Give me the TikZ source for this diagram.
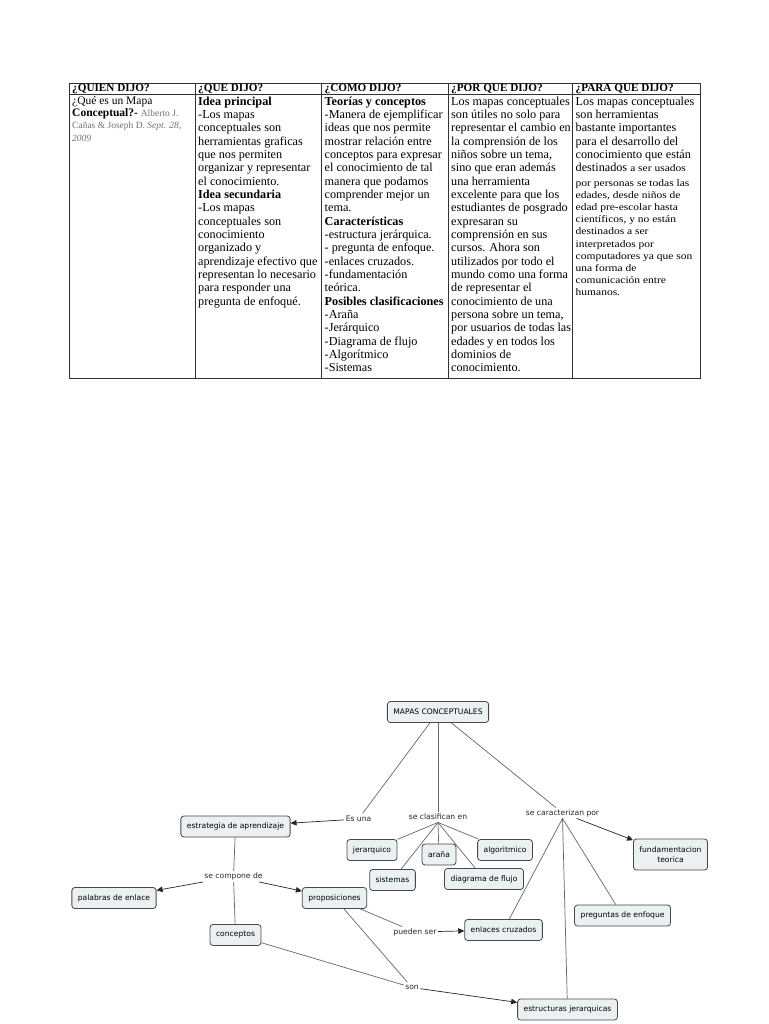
\documentclass[tikz,border=0pt]{standalone}
\usepackage{fontspec}
\usepackage{xcolor}
\setmainfont{Liberation Serif}
\newfontfamily\widefont[FakeStretch=1.15]{Liberation Serif}
\newfontfamily\cmapfont{DejaVu Sans}
\usetikzlibrary{positioning, arrows.meta, calc}

\definecolor{cmapfill}{HTML}{EBF0F3}
\definecolor{cmapline}{HTML}{484848}

\newcommand{\refnote}[1]{{\color{black!55}\fontsize{9.5}{12.4}\selectfont #1}}
\newcommand{\smalltxt}[1]{{\widefont\fontsize{10}{12.2}\selectfont #1}}

\begin{document}
\begin{tikzpicture}[
    x=1pt, y=-1pt,
    tabrule/.style={draw=black!80, line width=0.9pt},
    hdr/.style={anchor=base west, inner sep=0pt, font=\fontsize{11.2}{12}\selectfont\bfseries},
    cell/.style={anchor=north west, inner sep=0pt, align=left, font=\fontsize{12.2}{13.33}\selectfont},
    concept/.style={rectangle, draw=cmapline, fill=cmapfill, rounded corners=3pt, line width=0.8pt, inner xsep=6pt, inner ysep=3pt, minimum height=21pt, align=center, font=\cmapfont\fontsize{7.6}{10}\selectfont},
    linkword/.style={inner sep=1.5pt, text height=6pt, text depth=1.5pt, font=\cmapfont\fontsize{7.6}{9}\selectfont, text=black!85},
    conn/.style={draw=black!60, line width=0.7pt},
    arrow/.style={draw=black!85, line width=0.7pt, -{Triangle[length=6pt, width=5.5pt]}}
]
\useasboundingbox (0,0) rectangle (768,1024);
\fill[white] (0,0) rectangle (768,1024);

% Table
\draw[tabrule] (69,83) rectangle (700,378);
\draw[tabrule] (69,94) -- (700,94);
\foreach \x in {195,321.5,448,572.5}
    \draw[tabrule] (\x,83) -- (\x,378);

\node[hdr] (quienh) at (72,92) {¿QUIEN DIJO?};
\node[hdr] (queh) at (198,92) {¿QUE DIJO?};
\node[hdr] (comoh) at (324.5,92) {¿COMO DIJO?};
\node[hdr] (porqueh) at (451,92) {¿POR QUE DIJO?};
\node[hdr] (paraqueh) at (575.5,92) {¿PARA QUE DIJO?};

\node[cell, font=\fontsize{11.5}{12.4}\selectfont] (quien) at (72,96) {¿Qué es un Mapa\\
\textbf{Conceptual?-} \refnote{Alberto J.}\\
\refnote{Cañas \& Joseph D. \textit{Sept. 28,}}\\
\refnote{\textit{2009}}};

\node[cell] (que) at (198,96.5) {\textbf{Idea principal}\\
-Los mapas\\
conceptuales son\\
herramientas graficas\\
que nos permiten\\
organizar y representar\\
el conocimiento.\\
\textbf{Idea secundaria}\\
-Los mapas\\
conceptuales son\\
conocimiento\\
organizado y\\
aprendizaje efectivo que\\
representan lo necesario\\
para responder una\\
pregunta de enfoqué.};

\node[cell] (como) at (324.5,96.5) {\textbf{Teorías y conceptos}\\
-Manera de ejemplificar\\
ideas que nos permite\\
mostrar relación entre\\
conceptos para expresar\\
el conocimiento de tal\\
manera que podamos\\
comprender mejor un\\
tema.\\
\textbf{Características}\\
-estructura jerárquica.\\
- pregunta de enfoque.\\
-enlaces cruzados.\\
-fundamentación\\
teórica.\\
\textbf{Posibles clasificaciones}\\
-Araña\\
-Jerárquico\\
-Diagrama de flujo\\
-Algorítmico\\
-Sistemas};

\node[cell] (porque) at (451,96.5) {Los mapas conceptuales\\
son útiles no solo para\\
representar el cambio en\\
la comprensión de los\\
niños sobre un tema,\\
sino que eran además\\
una herramienta\\
excelente para que los\\
estudiantes de posgrado\\
expresaran su\\
comprensión en sus\\
cursos. Ahora son\\
utilizados por todo el\\
mundo como una forma\\
de representar el\\
conocimiento de una\\
persona sobre un tema,\\
por usuarios de todas las\\
edades y en todos los\\
dominios de\\
conocimiento.};

\node[cell] (paraque) at (575.5,96.5) {Los mapas conceptuales\\
son herramientas\\
bastante importantes\\
para el desarrollo del\\
conocimiento que están\\
destinados \smalltxt{a ser usados}};
\node[cell, font=\widefont\fontsize{10}{12.2}\selectfont] (paraque2) at (575.5,179) {por personas se todas las\\
edades, desde niños de\\
edad pre-escolar hasta\\
científicos, y no están\\
destinados a ser\\
interpretados por\\
computadores ya que son\\
una forma de\\
comunicación entre\\
humanos.};

% Concept map
\node[concept] (mapas) at (438,712) {MAPAS CONCEPTUALES};
\node[concept] (estrategia) at (235.5,826.5) {estrategia de aprendizaje};
\node[concept] (palabras) at (114,898) {palabras de enlace};
\node[concept] (proposiciones) at (334.5,898) {proposiciones};
\node[concept] (conceptos) at (235.5,935) {conceptos};
\node[concept] (jerarquico) at (372,850) {jerarquico};
\node[concept] (arana) at (439,854.5) {araña};
\node[concept] (algoritmico) at (505,850) {algoritmico};
\node[concept] (sistemas) at (392.5,880) {sistemas};
\node[concept] (diagrama) at (484,879) {diagrama de flujo};
\node[concept] (enlaces) at (503.5,930) {enlaces cruzados};
\node[concept] (preguntas) at (622.5,915.5) {preguntas de enfoque};
\node[concept] (estructuras) at (567.5,1009.5) {estructuras jerarquicas};
\node[concept, minimum height=31pt] (fundamentacion) at (670.5,854.5) {fundamentacion\\teorica};

% Linking phrases
\node[linkword] (esuna) at (358.5,819) {Es una};
\node[linkword] (clasifican) at (438,817) {se clasifican en};
\node[linkword] (caracterizan) at (562.5,813) {se caracterizan por};
\node[linkword] (compone) at (233.5,876.5) {se compone de};
\node[linkword] (pueden) at (415,932) {pueden ser};
\node[linkword] (son) at (412,987.5) {son};

% Connections
\draw[conn] (mapas) -- (esuna);
\draw[arrow] (esuna) -- (estrategia);
\draw[conn] (mapas) -- (clasifican);
\foreach \n in {jerarquico, arana, algoritmico, sistemas, diagrama}
    \draw[conn] (clasifican.south) -- (\n);
\draw[conn] (mapas) -- (caracterizan);
\draw[arrow] (caracterizan) -- (fundamentacion);
\foreach \n in {preguntas, enlaces, estructuras}
    \draw[conn] (caracterizan.south) -- (\n);
\draw[conn] (estrategia) -- (compone);
\draw[arrow] (compone) -- (palabras);
\draw[arrow] (compone) -- (proposiciones);
\draw[conn] (compone) -- (conceptos);
\draw[conn] (proposiciones) -- (pueden);
\draw[arrow] (pueden) -- (enlaces);
\draw[conn] (proposiciones) -- (son);
\draw[conn] (conceptos) -- (son);
\draw[arrow] (son) -- (estructuras);

\end{tikzpicture}
\end{document}
